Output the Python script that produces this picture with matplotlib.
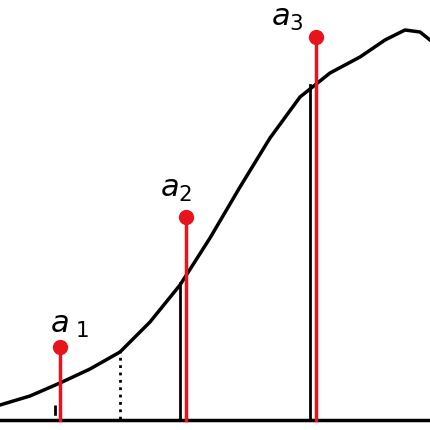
import matplotlib
matplotlib.use("Agg")
import matplotlib.pyplot as plt

curve_x = [0, 30, 60, 90, 120, 150, 180, 210, 240, 270, 300, 330, 360, 385, 405, 420, 430]
curve_y = [405, 396, 383, 369, 352, 322, 285, 238, 187, 138, 97, 73, 57, 40, 30, 32, 40]
stem_x = [60, 186, 316]
stem_top = [347, 217, 37]
stem_labels = ["$a_{\\ 1}$", "$a_2$", "$a_3$"]
label_pos = [(70, 325), (176, 188), (287, 18)]
guide_x = [55, 120, 180, 310]
guide_top = [405, 350, 283, 85]
guide_style = ["--", ":", "-", "-"]
base_y = 420

fig = plt.figure(figsize=(4.3, 4.3), dpi=100)
ax = fig.add_axes([0, 0, 1, 1])
ax.set_xlim(0, 430)
ax.set_ylim(430, 0)
ax.axis("off")

ax.plot(curve_x, curve_y, color="black", lw=2.5)
ax.plot([0, 430], [base_y, base_y], color="black", lw=2.5)
for x, t, s in zip(guide_x, guide_top, guide_style):
    ax.plot([x, x], [t, base_y], color="black", lw=2, ls=s)
for x, t in zip(stem_x, stem_top):
    ax.plot([x, x], [t, base_y], color="#e8141c", lw=2.5)
    ax.plot(x, t, "o", color="#e8141c", ms=10)
for lab, (x, y) in zip(stem_labels, label_pos):
    ax.text(x, y, lab, fontsize=22, ha="center", va="center", family="DejaVu Serif", style="italic")
fig.savefig("out.png", dpi=100)
